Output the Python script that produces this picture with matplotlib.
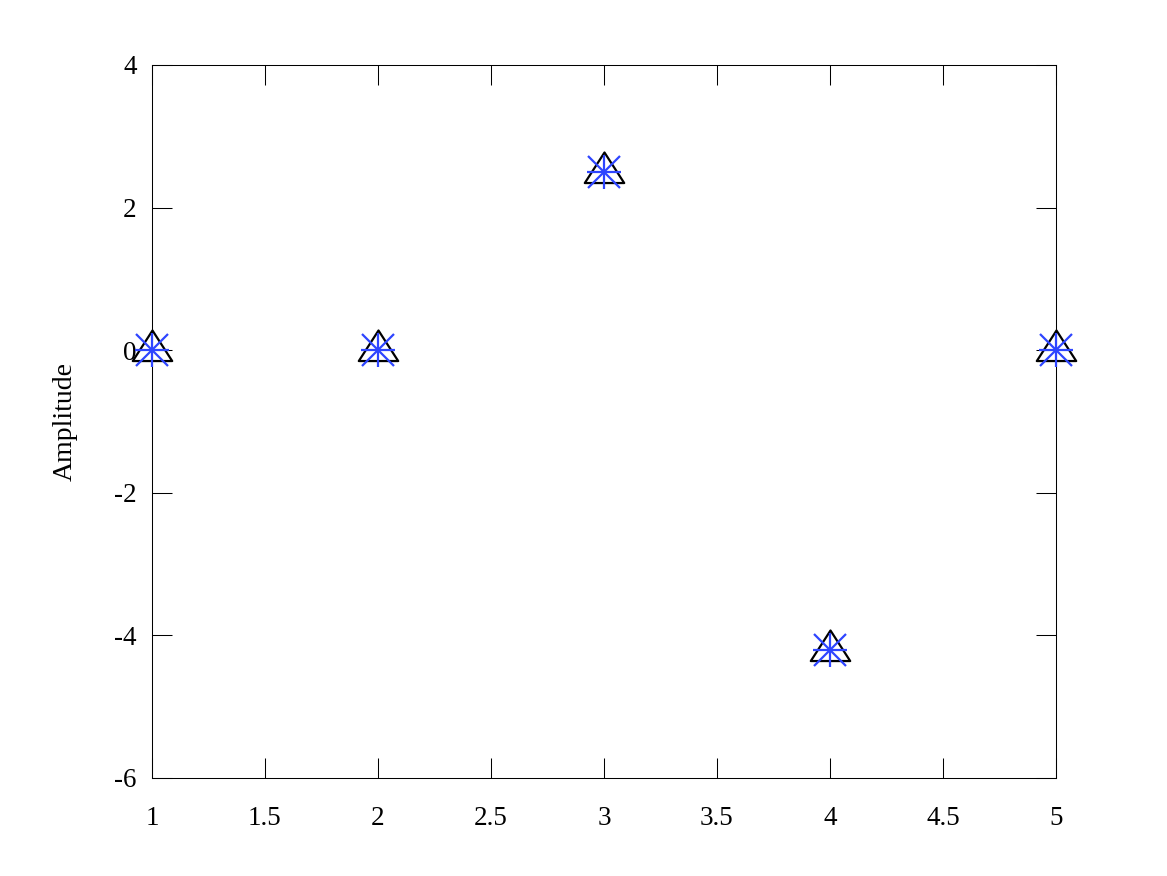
import numpy as np
import matplotlib
matplotlib.use("Agg")
import matplotlib.pyplot as plt
from matplotlib.path import Path

# data
x = [1, 2, 3, 4, 5]
amp = [0, 0, 2.5, -4.2, 0]
xticks = [1, 1.5, 2, 2.5, 3, 3.5, 4, 4.5, 5]
yticks = [-6, -4, -2, 0, 2, 4]

plt.rcParams['font.family'] = ['Liberation Serif', 'DejaVu Serif']

fig = plt.figure(figsize=(11.67, 8.76), dpi=100)
ax = fig.add_axes([0.1302, 0.1119, 0.7747, 0.8139])

# gnuplot style triangle, centre a bit below the middle
tri = Path([(0, 20.3), (-20, -10.7), (20, -10.7), (0, 20.3)],
           [Path.MOVETO, Path.LINETO, Path.LINETO, Path.CLOSEPOLY])

ax.plot(x, amp, linestyle='none', marker=tri, markersize=28.8,
        markerfacecolor='none', markeredgecolor='black', markeredgewidth=1.6,
        clip_on=False, zorder=3)
blue = '#2e45ff'
ax.plot(x, amp, linestyle='none', marker='+', markersize=24,
        markeredgecolor=blue, markeredgewidth=1.6, clip_on=False, zorder=4)
ax.plot(x, amp, linestyle='none', marker='x', markersize=23,
        markeredgecolor=blue, markeredgewidth=1.6, clip_on=False, zorder=4)

ax.set_xlim(1, 5)
ax.set_ylim(-6, 4)
ax.set_xticks(xticks)
ax.set_xticklabels(['1', '1.5', '2', '2.5', '3', '3.5', '4', '4.5', '5'])
ax.set_yticks(yticks)
ax.set_yticklabels([str(v) for v in yticks])
ax.tick_params(direction='in', length=14.5, width=0.75, top=True, right=True,
               labelsize=19.5)
ax.tick_params(axis='x', pad=20)
ax.tick_params(axis='y', pad=11)
for s in ax.spines.values():
    s.set_linewidth(0.75)

ax.set_ylabel('Amplitude', fontsize=20, labelpad=26)

fig.savefig('out.png', dpi=100)
